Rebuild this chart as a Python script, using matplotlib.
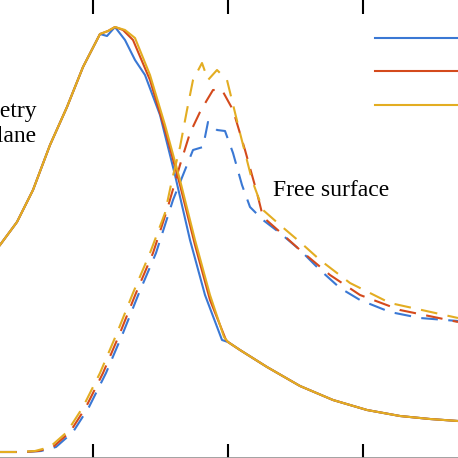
import matplotlib
matplotlib.use("Agg")
import matplotlib.pyplot as plt

C = ["#3a78d4", "#d44a1c", "#e3ad22"]

base_x = [0, 17, 33, 50, 67, 83, 100]
base_y = [245, 222, 190, 145, 107, 67, 34]
tail_x = [240, 267, 300, 333, 367, 400, 430, 458]
tail_y = [350, 367, 386, 400, 410, 416, 419, 421]

sol_blue_x = [107, 115, 125, 135, 145, 160, 175, 190, 205, 222, 228]
sol_blue_y = [36, 27, 40, 60, 75, 115, 175, 240, 295, 340, 342]
sol_red_x = [108, 115, 123, 133, 150, 165, 180, 195, 210, 226, 228]
sol_red_y = [31, 27, 30, 40, 80, 130, 185, 245, 300, 340, 342]
sol_yel_x = [108, 115, 125, 135, 150, 165, 180, 195, 210, 224, 228]
sol_yel_y = [31, 27, 30, 38, 75, 125, 180, 240, 295, 337, 342]

dlow_x = [0, 20, 35, 50, 67, 83, 100, 117, 133, 150]
dlow_y = [452, 452, 451, 447, 432, 407, 373, 333, 293, 253]
dbl_x = [173, 183, 193, 203, 208, 217, 225, 233, 242, 250, 263, 280, 300, 320, 340, 360, 390, 420, 458]
dbl_y = [200, 175, 150, 147, 122, 130, 131, 153, 185, 207, 220, 233, 250, 270, 288, 300, 312, 318, 321]
drd_x = [167, 180, 190, 200, 207, 213, 222, 233, 245, 257, 263, 280, 300, 330, 360, 400, 458]
drd_y = [210, 165, 133, 112, 100, 90, 90, 110, 150, 193, 217, 232, 250, 275, 295, 310, 322]
dyl_x = [165, 172, 180, 187, 193, 202, 208, 217, 227, 240, 252, 263, 280, 300, 320, 350, 390, 458]
dyl_y = [213, 180, 147, 110, 80, 63, 80, 70, 80, 133, 180, 210, 225, 242, 260, 283, 303, 318]

fig = plt.figure(figsize=(4.58, 4.58), dpi=100)
ax = fig.add_axes([0, 0, 1, 1])
ax.set_xlim(0, 458)
ax.set_ylim(458, 0)

sols = [(sol_blue_x, sol_blue_y), (sol_red_x, sol_red_y), (sol_yel_x, sol_yel_y)]
dashes = [(dbl_x, dbl_y, 6), (drd_x, drd_y, 3), (dyl_x, dyl_y, 0)]
for c, (sx, sy), (dx, dy, sh) in zip(C, sols, dashes):
    ax.plot(base_x + sx + tail_x, base_y + sy + tail_y, color=c, lw=1.5)
    lx = [v + sh for v in dlow_x]
    ax.plot([0] + lx[1:] + dx, dlow_y + dy, color=c, lw=1.5, dashes=(8, 5))

for c, y in zip(C, [38, 71, 105]):
    ax.plot([375, 458], [y, y], color=c, lw=1.5)

ax.text(37, 124, "Symmetry\nplane", ha="right", va="center", fontsize=17,
        family="Liberation Serif", linespacing=1.25)
ax.text(273, 190, "Free surface", ha="left", va="center", fontsize=17,
        family="Liberation Serif")

for s in ["left", "right", "top"]:
    ax.spines[s].set_visible(False)
ax.spines["bottom"].set_color("#999999")
ax.spines["bottom"].set_linewidth(2)
ax.set_xticks([93, 228, 363])
ax.set_yticks([])
ax.tick_params(axis="x", direction="in", length=10, width=1.5, top=True,
               labelbottom=False, color="black")
fig.savefig("out.png", dpi=100)
